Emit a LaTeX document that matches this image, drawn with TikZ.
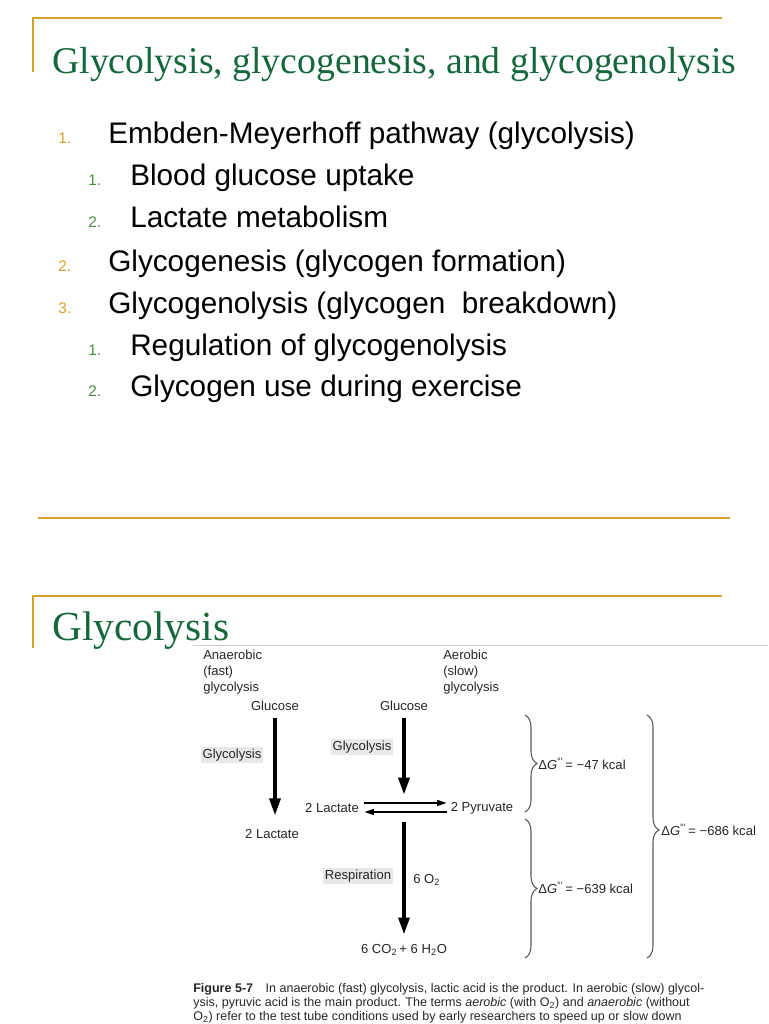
\documentclass[tikz,border=0pt]{standalone}
\usepackage{fontspec}
\setmainfont{Liberation Sans}
\newfontfamily\serifslide{Liberation Serif}
\usepackage{xcolor}
\usetikzlibrary{positioning}
\usetikzlibrary{calc}
\usetikzlibrary{arrows.meta}
\usetikzlibrary{decorations.pathreplacing}

\definecolor{rulegold}{RGB}{214,164,36}
\definecolor{titlegreen}{RGB}{20,104,60}
\definecolor{numgold}{RGB}{214,160,40}
\definecolor{numgreen}{RGB}{72,140,62}

\begin{document}
\begin{tikzpicture}[x=0.75pt,y=-0.75pt,
    goldrule/.style={draw=rulegold,line width=1.5pt},
    slidetitle/.style={anchor=base west,inner sep=0pt,text=titlegreen},
    itemtext/.style={anchor=base west,inner sep=0pt,font=\fontsize{22.3}{26}\selectfont},
    numone/.style={anchor=base west,inner sep=0pt,text=numgold,font=\fontsize{11.5}{13}\selectfont},
    numtwo/.style={anchor=base west,inner sep=0pt,text=numgreen,font=\fontsize{11.5}{13}\selectfont},
    figtext/.style={inner sep=0pt,text=black!85,font=\fontsize{9.8}{12}\selectfont},
    greylabel/.style={figtext,fill=black!9,inner sep=1.5pt},
    bigarrow/.style={line width=3pt,-{Triangle[width=8pt,length=13pt]}},
    thinarrow/.style={line width=0.9pt,-{Triangle[width=4.5pt,length=7pt]}},
    gbrace/.style={draw=black!65,line width=0.8pt,decorate,decoration={brace,amplitude=9pt}},
    captext/.style={anchor=base west,inner sep=0pt,text=black!85,font=\fontsize{9.4}{11}\selectfont}]

    \useasboundingbox (0,0) rectangle (768,1024);
    \clip (0,0) rectangle (768,1024);

    \draw[goldrule] (33,72) -- (33,18) -- (722,18);
    \node[slidetitle,font=\serifslide\fontsize{28.3}{34}\selectfont] (ttlone) at (52,74) {Glycolysis, glycogenesis, and glycogenolysis};

    \node[numone] (nemb) at (58,143) {1.};
    \node[itemtext] (emb) at (108,143) {Embden-Meyerhoff pathway (glycolysis)};
    \node[numtwo] (nblood) at (88,185) {1.};
    \node[itemtext] (blood) at (130,185) {Blood glucose uptake};
    \node[numtwo] (nlact) at (88,227) {2.};
    \node[itemtext] (lact) at (130,227) {Lactate metabolism};
    \node[numone] (ngen) at (58,271) {2.};
    \node[itemtext] (gen) at (108,271) {Glycogenesis (glycogen formation)};
    \node[numone] (nlys) at (58,313) {3.};
    \node[itemtext] (lys) at (108,313) {Glycogenolysis (glycogen\ \ breakdown)};
    \node[numtwo] (nreg) at (88,355) {1.};
    \node[itemtext] (reg) at (130,355) {Regulation of glycogenolysis};
    \node[numtwo] (nuse) at (88,396) {2.};
    \node[itemtext] (use) at (130,396) {Glycogen use during exercise};

    \draw[goldrule] (38,518) -- (730,518);

    \draw[goldrule] (33,648) -- (33,596) -- (722,596);
    \node[slidetitle,font=\serifslide\fontsize{31}{36}\selectfont] (ttltwo) at (52,640) {Glycolysis};

    \draw[black!20,line width=0.6pt] (193,645) -- (768,645);

    \node[figtext,anchor=north west,align=left] (anaer) at (203,650) {Anaerobic\\(fast)\\glycolysis};
    \node[figtext,anchor=north west,align=left] (aer) at (443,650) {Aerobic\\(slow)\\glycolysis};

    \node[figtext] (glucL) at (275,706) {Glucose};
    \node[figtext] (glucR) at (404,706) {Glucose};
    \node[greylabel] (glyL) at (232,755) {Glycolysis};
    \node[greylabel] (glyR) at (362,747) {Glycolysis};
    \node[figtext] (lactL) at (272,834) {2 Lactate};
    \node[figtext] (lactM) at (332,808) {2 Lactate};
    \node[figtext] (pyr) at (482,808) {2 Pyruvate};
    \node[greylabel] (resp) at (358,876) {Respiration};
    \node[figtext,anchor=west] (oxy) at (413,880) {6 O\textsubscript{2}};
    \node[figtext] (prod) at (404,950) {6 CO\textsubscript{2}\,+ 6 H\textsubscript{2}O};

    \coordinate (eqtop) at (404,795);
    \coordinate (eqbot) at (404,822);

    \draw[bigarrow,shorten <=5pt,shorten >=10pt] (glucL.south) -- (glucL.south |- lactL.north);
    \draw[bigarrow,shorten <=5pt] (glucR) -- (eqtop);
    \draw[bigarrow,shorten >=7pt] (eqbot) -- (prod);
    \draw[thinarrow,shorten <=4pt,shorten >=3pt] ([yshift=3.8pt]lactM.east) -- ([yshift=3.8pt]pyr.west);
    \draw[thinarrow,shorten <=3pt,shorten >=4pt] ([yshift=-3pt]pyr.west) -- ([yshift=-3pt]lactM.east);

    \coordinate (bAtop) at (525,715);
    \coordinate (bAbot) at (525,812);
    \coordinate (bBtop) at (525,819);
    \coordinate (bBbot) at (525,958);
    \coordinate (bCtop) at (647,715);
    \coordinate (bCbot) at (647,958);

    \draw[gbrace] (bAtop) -- (bAbot);
    \draw[gbrace] (bBtop) -- (bBbot);
    \draw[gbrace,decoration={aspect=0.473}] (bCtop) -- (bCbot);

    \node[figtext,anchor=west] (dgA) at (538,764) {Δ\textit{G}\textsuperscript{°′}\,= −47 kcal};
    \node[figtext,anchor=west] (dgB) at (538,888) {Δ\textit{G}\textsuperscript{°′}\,= −639 kcal};
    \node[figtext,anchor=west] (dgC) at (661,830) {Δ\textit{G}\textsuperscript{°′}\,= −686 kcal};

    \node[captext] (capA) at (193,992) {\textbf{Figure 5-7}\quad In anaerobic (fast) glycolysis, lactic acid is the product. In aerobic (slow) glycol-};
    \node[captext] (capB) at (193,1006.5) {ysis, pyruvic acid is the main product. The terms \textit{aerobic} (with O\textsubscript{2}) and \textit{anaerobic} (without};
    \node[captext] (capC) at (193,1020) {O\textsubscript{2}) refer to the test tube conditions used by early researchers to speed up or slow down};
\end{tikzpicture}
\end{document}
